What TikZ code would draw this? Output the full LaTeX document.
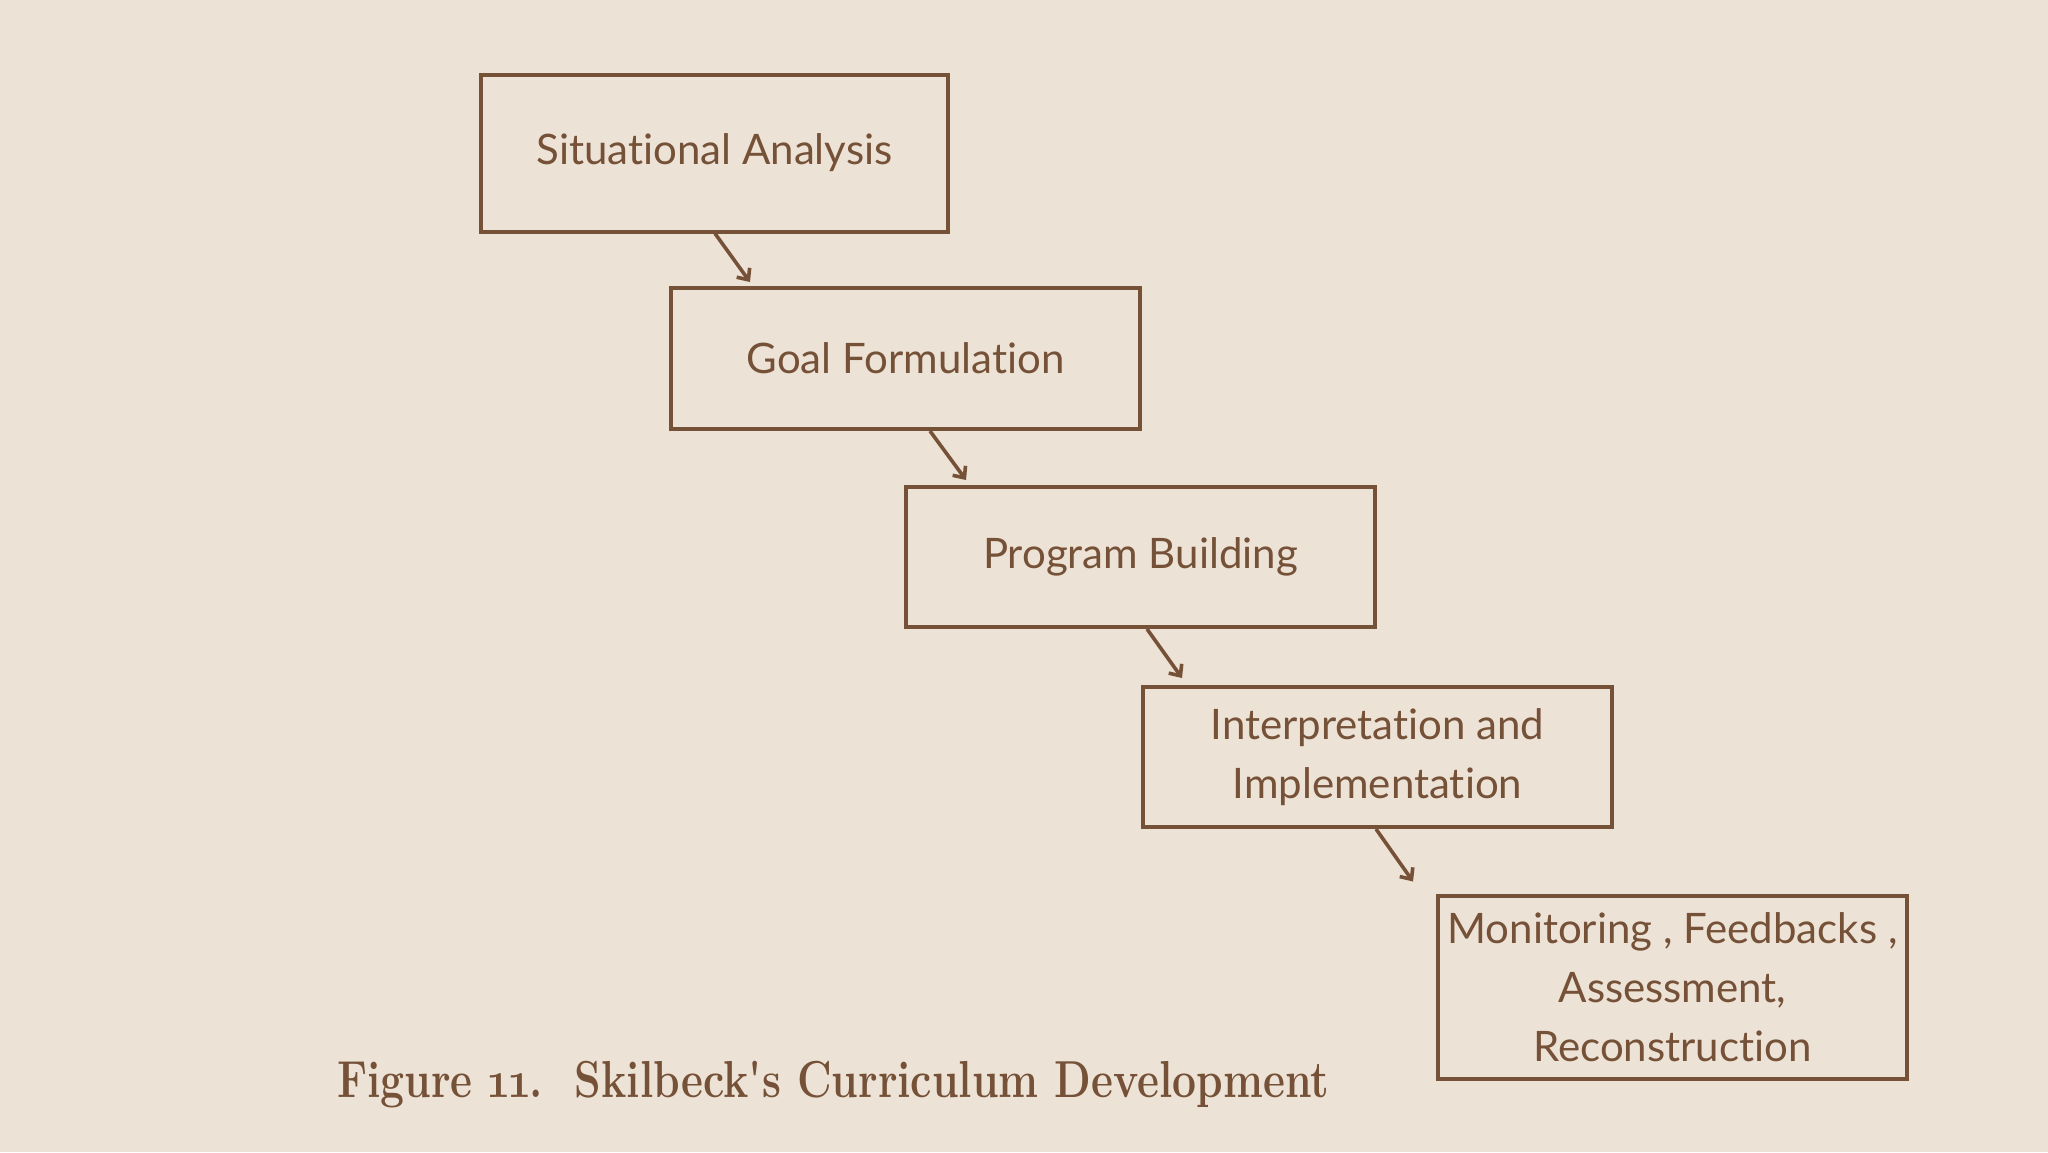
\documentclass[tikz,border=0pt]{standalone}
\usepackage{fontspec}
\setmainfont{Latin Modern Roman}
\newfontfamily\boxfont{Lato}[Ligatures=NoCommon]
\usetikzlibrary{calc,arrows.meta}
\definecolor{bgc}{RGB}{237,226,214}
\definecolor{brn}{RGB}{117,81,56}
\tikzset{
  stepbox/.style={draw=brn, line width=4pt, minimum width=467pt, inner sep=0pt,
    text=brn, font=\boxfont\fontsize{42}{59}\selectfont, align=center},
  arr/.style={draw=brn, line width=3.6pt, -{Straight Barb[length=9pt,width=16pt,line width=3.6pt]}},
}
\begin{document}
\begin{tikzpicture}[x=1pt,y=-1pt]
\fill[bgc] (0,0) rectangle (2048,1152);
\useasboundingbox (0,0) rectangle (2048,1152);
\node[stepbox, minimum height=157pt] (b1) at (714.5,153) {Situational Analysis};
\node[stepbox, minimum height=141pt, minimum width=469pt] (b2) at (905.5,358.5) {Goal Formulation};
\node[stepbox, minimum height=140pt, minimum width=469pt] (b3) at (1140.5,557) {Program Building};
\node[stepbox, minimum height=140pt, minimum width=469pt] (b4) at (1377.5,757) {Interpretation and\\Implementation};
\node[stepbox, minimum height=183pt, minimum width=469pt] (b5) at (1672.5,987) {Monitoring , Feedbacks ,\\Assessment,\\Reconstruction};
\draw[arr] ($(b1.south west)+(236,0)$) -- ($(b2.north west)+(81,-4)$);
\draw[arr] ($(b2.south west)+(261,0)$) -- ($(b3.north west)+(62,-5)$);
\draw[arr] ($(b3.south west)+(243,0)$) -- ($(b4.north west)+(41,-7)$);
\draw[arr] ($(b4.south west)+(235,0)$) -- ($(b5.north west)+(-23,-12)$);
\node[anchor=base west, inner sep=0pt, text=brn, font=\bfseries\fontsize{52}{60}\selectfont, xscale=0.82] (cap) at (337,1097) {Figure \oldstylenums{11}.\ \ Skilbeck\textquotesingle s Curriculum Development};
\end{tikzpicture}
\end{document}
